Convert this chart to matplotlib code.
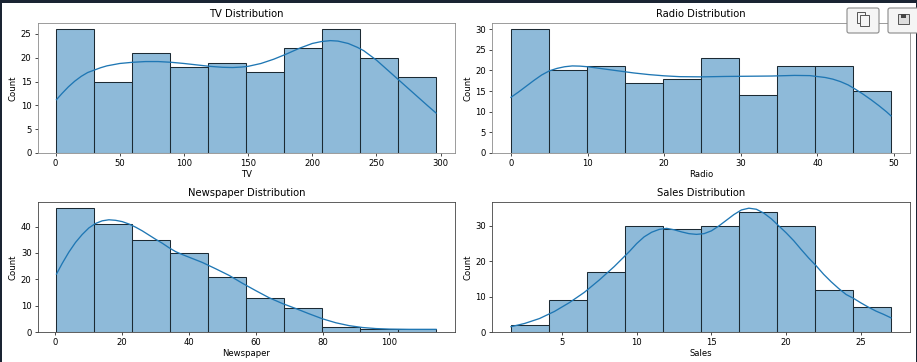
import numpy as np
from matplotlib import pyplot as plt
from matplotlib.patches import FancyBboxPatch, Rectangle
from matplotlib.transforms import IdentityTransform

# counts per bin and the data range of each histogram
tv_counts = [26, 15, 21, 18, 19, 17, 22, 26, 20, 16]
radio_counts = [30, 20, 21, 17, 18, 23, 14, 21, 21, 15]
news_counts = [47, 41, 35, 30, 21, 13, 9, 2, 1, 1]
sales_counts = [2, 9, 17, 30, 29, 30, 34, 30, 12, 7]

tv_range = (0.7, 296.4)
radio_range = (0.0, 49.6)
news_range = (0.3, 114.0)
sales_range = (1.6, 27.0)

# kde curves
tv_kde_x = [0.7, 5, 10, 15, 20, 25, 30, 35, 40, 50, 60, 70, 80, 90, 100, 110, 120, 130, 138, 145, 150, 160, 170,
            180, 190, 200, 207, 214, 220, 228, 235, 240, 250, 260, 270, 280, 290, 296.4]
tv_kde_y = [11.2, 12.5, 13.9, 15.1, 16.1, 16.9, 17.4, 17.9, 18.3, 18.8, 19.05, 19.2, 19.2, 19.05, 18.8, 18.5, 18.2,
            18.0, 17.95, 18.05, 18.2, 18.8, 19.7, 20.8, 22, 23, 23.4, 23.6, 23.5, 23, 22.2, 21.5, 19.5, 17.1, 14.7,
            12.3, 9.9, 8.4]
radio_kde_x = [0, 1, 2, 3, 4, 5, 6, 7, 8, 9, 10, 12, 14, 16, 18, 20, 22, 25, 28, 31, 34, 37, 39, 41, 42, 43, 44,
               45, 46, 47, 48, 49, 49.6]
radio_kde_y = [13.5, 14.8, 16.2, 17.6, 18.9, 19.9, 20.5, 20.9, 21.1, 21.05, 20.9, 20.4, 19.9, 19.4, 19, 18.7, 18.5,
               18.45, 18.55, 18.6, 18.65, 18.8, 18.75, 18.3, 17.9, 17.3, 16.5, 15.4, 14.2, 12.9, 11.5, 10, 9]
news_kde_x = [0.3, 2, 4, 6, 8, 10, 12, 14, 16, 18, 20, 22, 24, 26, 28, 30, 32, 34, 36, 38, 40, 44, 48, 52, 56, 60,
              64, 68, 72, 76, 80, 84, 88, 92, 96, 100, 106, 114]
news_kde_y = [22, 26, 30.3, 34, 37, 39.5, 41.2, 42.2, 42.6, 42.4, 41.9, 41, 39.8, 38.4, 36.8, 35.2, 33.7, 32, 30.5,
              29.4, 28.4, 26.4, 24, 21.5, 18.5, 15.7, 13, 10.8, 8.9, 6.9, 5, 3.5, 2.4, 1.7, 1.3, 1.1, 1, 1]
sales_kde_x = [1.6, 2.5, 3.5, 4.5, 5.5, 6.5, 7.5, 8.5, 9.5, 10, 10.5, 11, 11.5, 12, 12.5, 13, 13.5, 14, 14.5, 15,
               15.5, 16, 16.5, 17, 17.5, 18, 18.5, 19, 19.5, 20, 20.5, 21, 21.5, 22, 22.5, 23, 23.5, 24, 24.5, 25,
               25.5, 26, 26.5, 27]
sales_kde_y = [1.5, 2.4, 3.8, 5.8, 8.3, 11.2, 14.7, 18.5, 22.7, 25, 26.9, 28.2, 29, 29.3, 28.9, 28.3, 27.8, 27.6,
               27.8, 28.6, 30, 31.6, 33.2, 34.5, 35, 34.7, 33.6, 32, 30, 28, 25.8, 23.3, 20.9, 18.7, 16.3, 14.2,
               12.3, 10.6, 9.5, 8.2, 7, 5.9, 5, 4]

W, H = 917, 362
BLUE = '#1f77b4'
DARK = '#1a2433'


def make_axes(fig, left, right, top, bottom):
    return fig.add_axes([left / W, 1 - bottom / H, (right - left) / W, (bottom - top) / H])


def draw_hist(ax, counts, data_range, kde_x, kde_y, name, xticks, yticks, spine_color):
    edges = np.linspace(data_range[0], data_range[1], len(counts) + 1)
    ax.bar(edges[:-1], counts, width=np.diff(edges), align='edge',
           facecolor=(0.122, 0.467, 0.706, 0.5), edgecolor='#1c2a33', linewidth=0.75)
    ax.plot(kde_x, kde_y, color=BLUE, linewidth=0.95)
    ax.set_title(name + ' Distribution', fontsize=7.2, pad=4.3)
    ax.set_xlabel(name, fontsize=6.1, labelpad=1.8)
    ax.set_ylabel('Count', fontsize=6.1, labelpad=2.4)
    ax.set_xticks(xticks)
    ax.set_yticks(yticks)
    ax.tick_params(labelsize=6.1, length=2.1, width=0.5, pad=2.1)
    for spine in ax.spines.values():
        spine.set_linewidth(0.6)
        spine.set_color(spine_color)


def draw_button(fig, x, y, w, h):
    fig.add_artist(FancyBboxPatch((x, H - y - h), w, h, boxstyle='round,pad=0,rounding_size=2',
                                  transform=IdentityTransform(),
                                  facecolor='#f5f5f5', edgecolor='#8a8a8a', linewidth=0.8, zorder=7))


def main():
    fig = plt.figure(figsize=(W / 100, H / 100), dpi=100)

    ax1 = make_axes(fig, 37.5, 455, 23, 153)
    draw_hist(ax1, tv_counts, tv_range, tv_kde_x, tv_kde_y, 'TV',
              range(0, 301, 50), range(0, 26, 5), '#8c8c8c')
    ax2 = make_axes(fig, 492, 910, 23, 153)
    draw_hist(ax2, radio_counts, radio_range, radio_kde_x, radio_kde_y, 'Radio',
              range(0, 51, 10), range(0, 31, 5), '#8c8c8c')
    ax3 = make_axes(fig, 37.5, 455, 202, 332)
    draw_hist(ax3, news_counts, news_range, news_kde_x, news_kde_y, 'Newspaper',
              range(0, 101, 20), range(0, 41, 10), '#444444')
    ax4 = make_axes(fig, 492, 910, 202, 332)
    draw_hist(ax4, sales_counts, sales_range, sales_kde_x, sales_kde_y, 'Sales',
              range(5, 26, 5), range(0, 31, 10), '#444444')

    # notebook frame around the picture
    px = IdentityTransform()
    fig.add_artist(Rectangle((0, H - 3), W, 3, transform=px, facecolor=DARK, edgecolor='none', zorder=6))
    fig.add_artist(Rectangle((0, 0), 2, H, transform=px, facecolor=DARK, edgecolor='none', zorder=6))
    fig.add_artist(Rectangle((W - 1, 0), 1, H, transform=px, facecolor=DARK, edgecolor='none', zorder=6))

    # copy and save buttons
    draw_button(fig, 847, 8, 32, 25)
    draw_button(fig, 888, 8, 34, 25)
    fig.add_artist(Rectangle((857, H - 23), 8, 11, transform=px, facecolor='#f5f5f5',
                             edgecolor='#555555', linewidth=0.7, zorder=8))
    fig.add_artist(Rectangle((860, H - 26), 9, 11, transform=px, facecolor='#f5f5f5',
                             edgecolor='#555555', linewidth=0.7, zorder=8))
    fig.add_artist(Rectangle((898, H - 24), 11, 10, transform=px, facecolor='#dddddd',
                             edgecolor='#555555', linewidth=0.7, zorder=8))
    fig.add_artist(Rectangle((901, H - 18), 5, 4, transform=px, facecolor='#444444',
                             edgecolor='none', zorder=8))

    fig.savefig('out.png', dpi=100)


if __name__ == '__main__':
    main()
